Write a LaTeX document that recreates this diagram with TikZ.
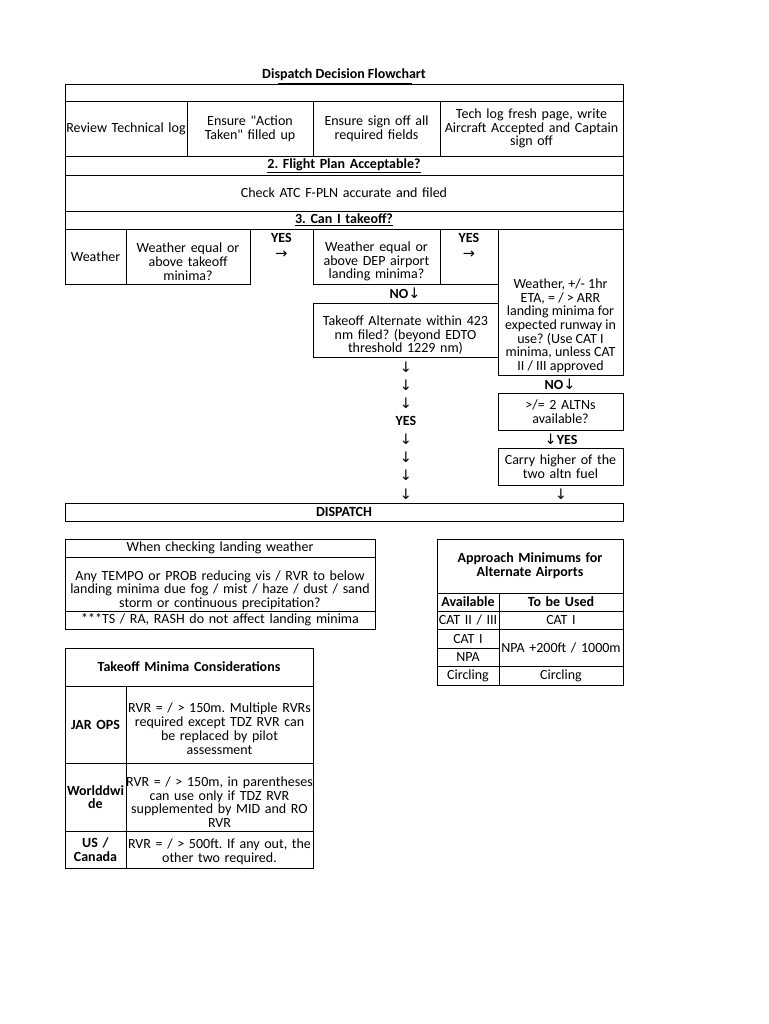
\documentclass[tikz,border=0pt]{standalone}
\usepackage{fontspec}
\setmainfont{Carlito}[Ligatures=TeXOff]
\newfontfamily\arrowfont{DejaVu Sans}
\usetikzlibrary{positioning}
\frenchspacing

\newcommand{\darr}{{\arrowfont\fontsize{14.5}{13.7}\selectfont ↓}}
\newcommand{\rarr}{{\arrowfont\fontsize{14.5}{13.7}\selectfont →}}

\tikzset{
  cell/.style 2 args={draw, line width=0.8pt, outer sep=0pt, inner sep=0pt,
    text width=#1, minimum height=#2, align=center, anchor=north west},
  txt/.style={inner sep=0pt, align=center},
}

\begin{document}
\begin{tikzpicture}[x=1pt, y=-1pt, font=\fontsize{14}{13.7}\selectfont]
\useasboundingbox (0,0) rectangle (768,1024);

% title
\node (title) at (344,75) {\textbf{Dispatch Decision Flowchart}};
\draw[line width=1.8pt] (278,84) -- (412,84);

% 1. tech log
\node[cell={558pt}{17pt}] (blank) at (65,84) {};
\node[cell={122pt}{55pt}] (revlog) at (65,101) {Review Technical log};
\node[cell={126pt}{55pt}, right=0pt of revlog] (action) {Ensure "Action\\Taken" filled up};
\node[cell={127pt}{55pt}, right=0pt of action] (signoff) {Ensure sign off all\\required fields};
\node[cell={183pt}{55pt}, right=0pt of signoff] (techlog) {Tech log fresh page, write\\Aircraft Accepted and Captain\\sign off};

% 2. flight plan
\node[cell={558pt}{19pt}] (fplhead) at (revlog.south west) {\textbf{\underline{2. Flight Plan Acceptable?}}};
\node[cell={558pt}{36pt}, below=0pt of fplhead] (atc) {Check ATC F-PLN accurate and filed};

% 3. takeoff
\node[cell={558pt}{18pt}, below=0pt of atc] (tohead) {\textbf{\underline{3. Can I takeoff?}}};
\node[cell={61pt}{55pt}] (wx) at (tohead.south west) {Weather};
\node[cell={124pt}{55pt}, right=0pt of wx, text height=20pt] (tomin) {Weather equal or\\above takeoff\\minima?};
\node[cell={63pt}{55pt}, draw=none, right=0pt of tomin] (yesa) {};
\node[cell={127pt}{55pt}, right=0pt of yesa, text height=20pt] (depmin) {Weather equal or\\above DEP airport\\landing minima?};
\node[cell={58pt}{55pt}, right=0pt of depmin] (yesb) {};
\node[cell={125pt}{146pt}] (arrmin) at (yesb.north east) {};
\node[txt, above=2pt of arrmin.south] (arrtxt) {Weather, +/- 1hr\\ETA, = / > ARR\\landing minima for\\expected runway in\\use? (Use CAT I\\minima, unless CAT\\II / III approved};
\node[txt, below=4pt of yesa.north] (yesatxt) {\textbf{YES}\\[2pt]\rarr};
\node[txt, below=4pt of yesb.north] (yesbtxt) {\textbf{YES}\\[2pt]\rarr};

% no branch, left
\node[txt] (noa) at (405,293) {\textbf{NO}\darr};
\node[cell={185pt}{54pt}, text height=20pt] (toalt) at (313,303) {Takeoff Alternate within 423\\nm filed? (beyond EDTO\\threshold 1229 nm)};
\foreach \y [count=\i] in {367,385,403,439,457,475,494}
  \node[txt] (dn\i) at (406,\y) {\darr};
\node[txt] (yesc) at (406,421) {\textbf{YES}};

% no branch, right
\node[txt] (nob) at (560,384) {\textbf{NO}\darr};
\node[cell={125pt}{37pt}] (altns) at (498,393) {>/= 2 ALTNs\\available?};
\node[txt] (yesd) at (561,439) {\darr\textbf{YES}};
\node[cell={125pt}{37pt}] (carry) at (498,448) {Carry higher of the\\two altn fuel};
\node[txt] (dn8) at (561,494) {\darr};

\node[cell={558pt}{18pt}] (dispatch) at (65,503) {\textbf{DISPATCH}};

% landing weather
\node[cell={310pt}{18pt}] (lwhead) at (65,539) {When checking landing weather};
\node[cell={310pt}{54pt}, below=0pt of lwhead, text height=22pt] (tempo) {Any TEMPO or PROB reducing vis / RVR to below\\landing minima due fog / mist / haze / dust / sand\\storm or continuous precipitation?};
\node[cell={310pt}{18pt}, below=0pt of tempo] (tsra) {***TS / RA, RASH do not affect landing minima};

% approach minimums
\node[cell={186pt}{54pt}] (aphead) at (437,539) {\textbf{Approach Minimums for}\\\textbf{Alternate Airports}};
\node[cell={62pt}{18pt}] (avail) at (aphead.south west) {\textbf{Available}};
\node[cell={124pt}{18pt}, right=0pt of avail] (tbu) {\textbf{To be Used}};
\node[cell={62pt}{18pt}, below=0pt of avail] (cat23) {CAT II / III};
\node[cell={124pt}{18pt}, right=0pt of cat23] (cat1a) {CAT I};
\node[cell={62pt}{19pt}, below=0pt of cat23] (cat1b) {CAT I};
\node[cell={62pt}{18pt}, below=0pt of cat1b] (npa) {NPA};
\node[cell={124pt}{37pt}] (npaplus) at (cat1b.north east) {NPA +200ft / 1000m};
\node[cell={62pt}{19pt}, below=0pt of npa] (circa) {Circling};
\node[cell={124pt}{19pt}, right=0pt of circa] (circb) {Circling};

% takeoff minima
\node[cell={248pt}{38pt}] (tmhead) at (65,648) {\textbf{Takeoff Minima Considerations}};
\node[cell={61pt}{77pt}] (jar) at (tmhead.south west) {\textbf{JAR OPS}};
\node[cell={187pt}{77pt}, right=0pt of jar, text height=18pt] (jartxt) {RVR = / > 150m. Multiple RVRs\\required except TDZ RVR can\\be replaced by pilot\\assessment};
\node[cell={61pt}{68pt}, below=0pt of jar] (ww) {\textbf{Worlddwi}\\\textbf{de}};
\node[cell={187pt}{68pt}, right=0pt of ww, text height=20pt] (wwtxt) {RVR = / > 150m, in parentheses\\can use only if TDZ RVR\\supplemented by MID and RO\\RVR};
\node[cell={61pt}{37pt}, below=0pt of ww] (us) {\textbf{US /}\\\textbf{Canada}};
\node[cell={187pt}{37pt}, right=0pt of us, text height=14pt] (ustxt) {RVR = / > 500ft. If any out, the\\other two required.};
\end{tikzpicture}
\end{document}
